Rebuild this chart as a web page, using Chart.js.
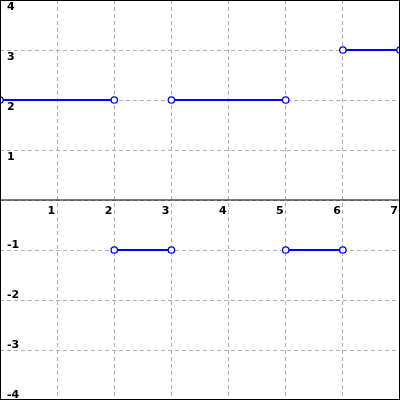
<!DOCTYPE html>
<html>
<head>
<meta charset="utf-8">
<script src="https://cdn.jsdelivr.net/npm/chart.js@4/dist/chart.umd.min.js"></script>
<style>
  html, body { margin: 0; padding: 0; background: #fff; }
  #wrap { width: 400px; height: 400px; }
</style>
</head>
<body>
<div id="wrap"><canvas id="stepChart"></canvas></div>
<script>
// step pieces: [x start, x end, y]
var segStart = [0, 3, 6, 2, 5];
var segEnd   = [2, 5, 7, 3, 6];
var segY     = [2, 2, 3, -1, -1];

var xTicks = [1, 2, 3, 4, 5, 6, 7];
var yTicks = [4, 3, 2, 1, -1, -2, -3, -4];

var datasets = [];
for (var i = 0; i < segY.length; i++) {
    datasets.push({
        data: [{x: segStart[i], y: segY[i]}, {x: segEnd[i], y: segY[i]}],
        showLine: true,
        borderColor: '#0000ff',
        borderWidth: 2.2,
        pointRadius: 3.2,
        pointBorderWidth: 1.3,
        pointBackgroundColor: '#ffffff',
        pointBorderColor: '#0000ff'
    });
}

// axis lines, labels and frame drawn by hand so the plot fills the canvas
var axesPlugin = {
    id: 'axesPlugin',
    afterDraw: function (chart) {
        var c = chart.ctx;
        var xs = chart.scales.x, ys = chart.scales.y;
        var x0 = Math.round(xs.getPixelForValue(0)), y0 = Math.round(ys.getPixelForValue(0));
        c.save();
        c.strokeStyle = '#000';
        c.lineWidth = 1.2;
        c.beginPath();
        c.moveTo(0, y0); c.lineTo(chart.width, y0);
        c.moveTo(x0, 0); c.lineTo(x0, chart.height);
        c.stroke();
        c.lineWidth = 2;
        c.strokeRect(0, 0, chart.width, chart.height);

        c.fillStyle = '#000';
        c.font = 'bold 11px "DejaVu Sans"';
        c.textAlign = 'right';
        c.textBaseline = 'top';
        xTicks.forEach(function (v) {
            c.fillText(String(v), xs.getPixelForValue(v) - 2, y0 + 6);
        });
        c.textAlign = 'left';
        yTicks.forEach(function (v) {
            var py = ys.getPixelForValue(v);
            if (v > 0) {
                c.textBaseline = 'top';
                c.fillText(String(v), x0 + 7, py + 2);
            } else {
                c.textBaseline = 'bottom';
                c.fillText(String(v), x0 + 7, py + 1);
            }
        });
        c.restore();
    }
};

new Chart(document.getElementById('stepChart'), {
    type: 'scatter',
    data: { datasets: datasets },
    options: {
        responsive: true,
        maintainAspectRatio: false,
        animation: false,
        layout: { padding: 0, autoPadding: false },
        plugins: { legend: { display: false }, tooltip: { enabled: false } },
        scales: {
            x: {
                type: 'linear', min: 0, max: 7,
                ticks: { display: false, stepSize: 1, padding: 0 },
                grid: { color: '#b0b0b0', lineWidth: 1, drawTicks: false, tickLength: 0 },
                border: { display: false, dash: [4, 3] }
            },
            y: {
                type: 'linear', min: -4, max: 4,
                ticks: { display: false, stepSize: 1, padding: 0 },
                grid: { color: '#b0b0b0', lineWidth: 1, drawTicks: false, tickLength: 0 },
                border: { display: false, dash: [4, 3] }
            }
        }
    },
    plugins: [axesPlugin]
});
</script>
</body>
</html>
